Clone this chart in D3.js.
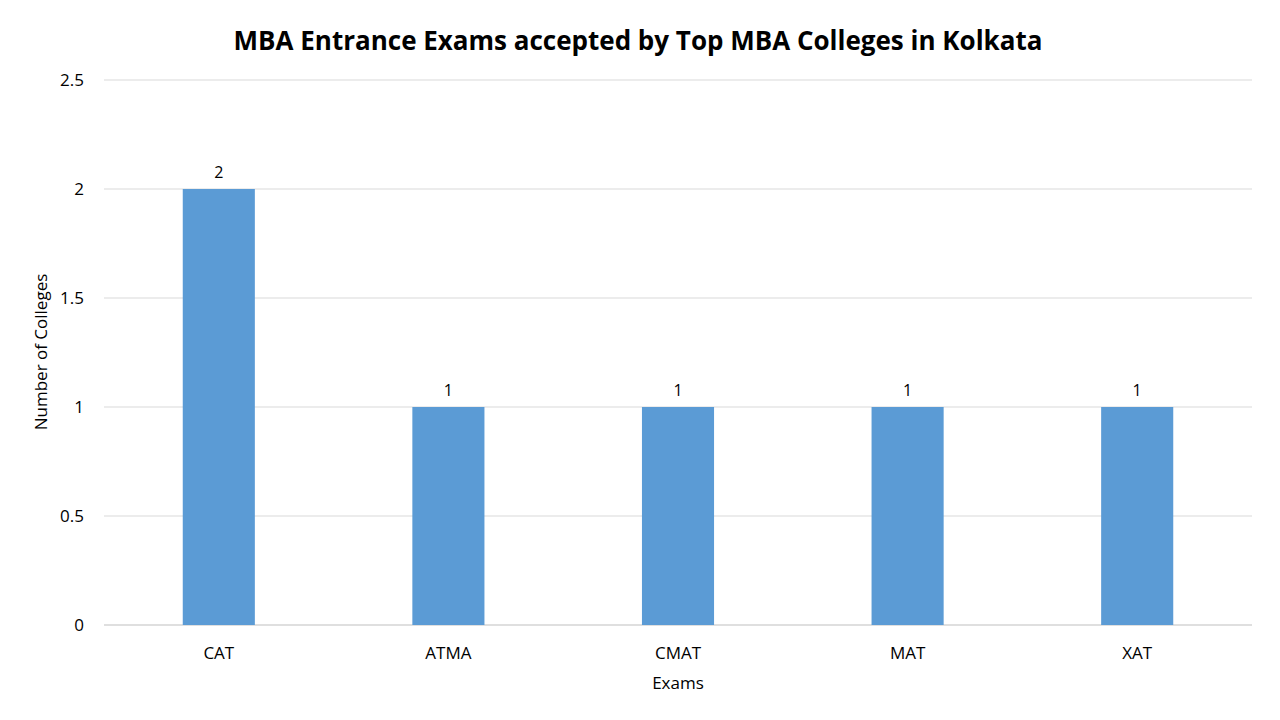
<!DOCTYPE html>
<html><head><meta charset="utf-8">
<script src="https://cdn.jsdelivr.net/npm/d3@7"></script>
<style>body{margin:0;background:#fff;font-family:"Open Sans","Liberation Sans",sans-serif;}</style>
</head><body><svg id="c" width="1280" height="720"></svg>
<script>
const categories = ["CAT","ATMA","CMAT","MAT","XAT"];
const values = [2,1,1,1,1];
const yTicks = [0,0.5,1,1.5,2,2.5];
const title = "MBA Entrance Exams accepted by Top MBA Colleges in Kolkata";

const svg = d3.select("#c");
const m = {l:104, r:1252, t:80, b:625};
const x = d3.scaleBand().domain(categories).range([m.l,m.r]).paddingInner(0.686).paddingOuter(0.343);
const y = d3.scaleLinear().domain([0,2.5]).range([m.b,m.t]);

svg.append("text").attr("x",638).attr("y",50).attr("text-anchor","middle")
  .attr("font-size",26).attr("font-weight","bold").attr("fill","#000").text(title);

svg.selectAll(".g").data(yTicks).enter().append("line")
  .attr("x1",m.l).attr("x2",m.r).attr("y1",d=>y(d)).attr("y2",d=>y(d))
  .attr("stroke",d=>d===0?"#bfbfbf":"#d9d9d9").attr("stroke-width",1);
svg.selectAll(".yt").data(yTicks).enter().append("text")
  .attr("x",84).attr("y",d=>y(d)+6).attr("text-anchor","end").attr("font-size",17).attr("fill","#000")
  .text(d=>d);

svg.selectAll(".bar").data(values).enter().append("rect")
  .attr("x",(d,i)=>x(categories[i])).attr("width",x.bandwidth())
  .attr("y",d=>y(d)).attr("height",d=>y(0)-y(d)).attr("fill","#5b9bd5");
svg.selectAll(".lbl").data(values).enter().append("text")
  .attr("x",(d,i)=>x(categories[i])+x.bandwidth()/2).attr("y",d=>y(d)-11)
  .attr("text-anchor","middle").attr("font-size",16).attr("fill","#000").text(d=>d);
svg.selectAll(".xt").data(categories).enter().append("text")
  .attr("x",d=>x(d)+x.bandwidth()/2).attr("y",659).attr("text-anchor","middle")
  .attr("font-size",17).attr("fill","#000").text(d=>d);

svg.append("text").attr("x",678).attr("y",689).attr("text-anchor","middle").attr("font-size",17).text("Exams");
svg.append("text").attr("transform","translate(47,352) rotate(-90)").attr("text-anchor","middle")
  .attr("font-size",17).text("Number of Colleges");
</script></body></html>
